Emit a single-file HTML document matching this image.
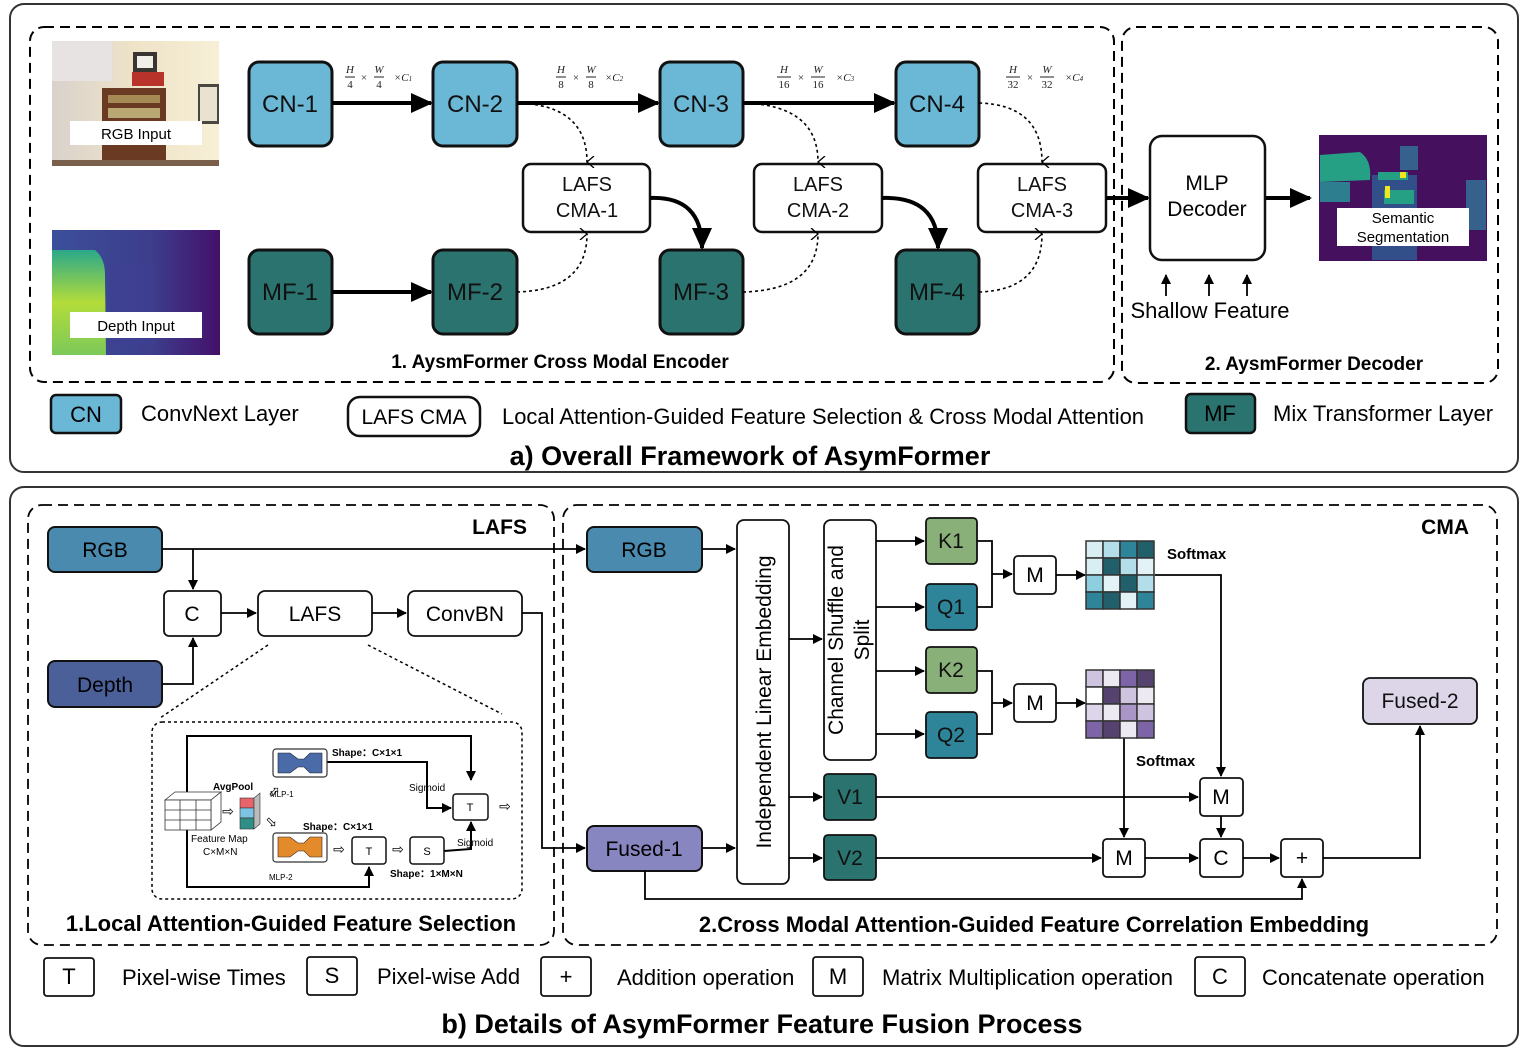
<!DOCTYPE html>
<html><head><meta charset="utf-8"><style>
html,body{margin:0;padding:0;background:#fff}
svg{display:block;font-family:"Liberation Sans",Arial,sans-serif}
</style></head><body>
<svg width="1521" height="1053" viewBox="0 0 1521 1053" xmlns="http://www.w3.org/2000/svg">
<defs>
<marker id="ah" markerWidth="10" markerHeight="10" refX="9" refY="5" orient="auto" markerUnits="userSpaceOnUse"><path d="M0,0 L10,5 L0,10 z" fill="#000"/></marker>
<marker id="ahb" markerWidth="22" markerHeight="20" refX="20" refY="10" orient="auto" markerUnits="userSpaceOnUse"><path d="M0,0 L22,10 L0,20 z" fill="#000"/></marker>
<marker id="aho" markerWidth="12" markerHeight="12" refX="6" refY="11" orient="auto-start-reverse" markerUnits="userSpaceOnUse"><path d="M0,4 L6,11 L12,4" fill="none" stroke="#000" stroke-width="1.3"/></marker>
<linearGradient id="gRgb" x1="0" y1="0" x2="1" y2="0"><stop offset="0" stop-color="#d9d2cc"/><stop offset="0.5" stop-color="#efe3c8"/><stop offset="1" stop-color="#f6efd6"/></linearGradient>
<linearGradient id="gDep" x1="0" y1="0" x2="1" y2="0"><stop offset="0" stop-color="#3b4f9a"/><stop offset="0.6" stop-color="#3d3d8c"/><stop offset="1" stop-color="#44106a"/></linearGradient>
<linearGradient id="gDep2" x1="0" y1="0" x2="0" y2="1"><stop offset="0" stop-color="#2aa88a"/><stop offset="0.5" stop-color="#b3dc3a"/><stop offset="1" stop-color="#7cc95a"/></linearGradient>
</defs>

<!-- ===== Panel a ===== -->
<rect x="10" y="4" width="1508" height="468" rx="14" fill="#fff" stroke="#333" stroke-width="2"/>
<rect x="30" y="27" width="1084" height="355" rx="14" fill="none" stroke="#000" stroke-width="2" stroke-dasharray="10,6"/>
<rect x="1122" y="27" width="376" height="356" rx="14" fill="none" stroke="#000" stroke-width="2" stroke-dasharray="10,6"/>

<!-- RGB image -->
<rect x="52" y="41" width="167" height="125" fill="url(#gRgb)"/>
<rect x="52" y="41" width="60" height="40" fill="#e7e3e3"/>
<rect x="102" y="88" width="64" height="78" fill="#6b3a22"/>
<rect x="108" y="95" width="52" height="8" fill="#a58a56"/>
<rect x="108" y="108" width="52" height="10" fill="#b9a874"/>
<rect x="132" y="72" width="32" height="14" fill="#b8342a"/>
<rect x="133" y="52" width="24" height="20" fill="#3a3530"/>
<rect x="137" y="56" width="16" height="12" fill="#f0efe8"/>
<rect x="198" y="84" width="21" height="40" fill="#4a4640"/>
<rect x="200" y="87" width="17" height="34" fill="#e9e2d0"/>
<rect x="52" y="160" width="167" height="6" fill="#7a5f4a"/>
<rect x="70" y="121" width="132" height="24" fill="#fff"/>
<text x="136" y="139" font-size="15" text-anchor="middle">RGB Input</text>

<!-- Depth image -->
<rect x="52" y="230" width="168" height="125" fill="url(#gDep)"/>
<path d="M52,250 L95,250 Q105,258 105,275 L106,355 L52,355 z" fill="url(#gDep2)"/>
<rect x="110" y="265" width="45" height="80" fill="#403f92" opacity="0.6"/>
<rect x="70" y="312" width="132" height="26" fill="#fff"/>
<text x="136" y="331" font-size="15" text-anchor="middle">Depth Input</text>

<!-- CN boxes -->
<g stroke="#111" stroke-width="3" fill="#6bb8d6">
<rect x="249" y="62" width="83" height="84" rx="10"/>
<rect x="433" y="62" width="84" height="84" rx="10"/>
<rect x="660" y="62" width="83" height="84" rx="10"/>
<rect x="896" y="62" width="83" height="84" rx="10"/>
</g>
<g fill="#2b736f" stroke="#111" stroke-width="3">
<rect x="249" y="250" width="83" height="84" rx="10"/>
<rect x="433" y="250" width="84" height="84" rx="10"/>
<rect x="660" y="250" width="83" height="84" rx="10"/>
<rect x="896" y="250" width="83" height="84" rx="10"/>
</g>
<g font-size="24" text-anchor="middle" fill="#111">
<text x="290" y="112">CN-1</text><text x="475" y="112">CN-2</text><text x="701" y="112">CN-3</text><text x="937" y="112">CN-4</text>
<text x="290" y="300">MF-1</text><text x="475" y="300">MF-2</text><text x="701" y="300">MF-3</text><text x="937" y="300">MF-4</text>
</g>

<!-- LAFS CMA boxes -->
<g fill="#fff" stroke="#111" stroke-width="2.5">
<rect x="523" y="164" width="127" height="68" rx="8"/>
<rect x="754" y="164" width="128" height="68" rx="8"/>
<rect x="978" y="164" width="128" height="68" rx="8"/>
</g>
<g font-size="20" text-anchor="middle" fill="#111">
<text x="587" y="191">LAFS</text><text x="587" y="217">CMA-1</text>
<text x="818" y="191">LAFS</text><text x="818" y="217">CMA-2</text>
<text x="1042" y="191">LAFS</text><text x="1042" y="217">CMA-3</text>
</g>

<!-- thick arrows -->
<g stroke="#000" stroke-width="4" fill="none" marker-end="url(#ahb)">
<line x1="332" y1="103" x2="431" y2="103"/>
<line x1="517" y1="103" x2="658" y2="103"/>
<line x1="743" y1="103" x2="894" y2="103"/>
<line x1="332" y1="292" x2="431" y2="292"/>
<path d="M650,198 Q702,196 702,248"/>
<path d="M882,198 Q938,196 938,248"/>
<line x1="1106" y1="198" x2="1148" y2="198"/>
<line x1="1265" y1="198" x2="1310" y2="198"/>
</g>
<!-- dotted curves -->
<g stroke="#000" stroke-width="1.6" fill="none" stroke-dasharray="3,3">
<path d="M517,103 Q587,105 587,162" marker-end="url(#aho)"/>
<path d="M517,292 Q587,290 587,234" marker-end="url(#aho)"/>
<path d="M743,103 Q818,105 818,162" marker-end="url(#aho)"/>
<path d="M743,292 Q818,290 818,234" marker-end="url(#aho)"/>
<path d="M979,103 Q1042,105 1042,162" marker-end="url(#aho)"/>
<path d="M979,292 Q1042,290 1042,234" marker-end="url(#aho)"/>
</g>

<!-- formulas -->
<g font-family="Liberation Serif,serif" font-style="italic" font-size="11" fill="#222" text-anchor="middle">
<g transform="translate(350,0)"><text x="0" y="73">H</text><text x="0" y="88" font-style="normal">4</text><line x1="-5" y1="77" x2="5" y2="77" stroke="#222"/></g>
<text x="364" y="81" font-style="normal">×</text>
<g transform="translate(379,0)"><text x="0" y="73">W</text><text x="0" y="88" font-style="normal">4</text><line x1="-5" y1="77" x2="5" y2="77" stroke="#222"/></g>
<text x="403" y="81">×C<tspan font-size="7">1</tspan></text>
<g transform="translate(561,0)"><text x="0" y="73">H</text><text x="0" y="88" font-style="normal">8</text><line x1="-5" y1="77" x2="5" y2="77" stroke="#222"/></g>
<text x="576" y="81" font-style="normal">×</text>
<g transform="translate(591,0)"><text x="0" y="73">W</text><text x="0" y="88" font-style="normal">8</text><line x1="-5" y1="77" x2="5" y2="77" stroke="#222"/></g>
<text x="614" y="81">×C<tspan font-size="7">2</tspan></text>
<g transform="translate(784,0)"><text x="0" y="73">H</text><text x="0" y="88" font-style="normal">16</text><line x1="-7" y1="77" x2="7" y2="77" stroke="#222"/></g>
<text x="801" y="81" font-style="normal">×</text>
<g transform="translate(818,0)"><text x="0" y="73">W</text><text x="0" y="88" font-style="normal">16</text><line x1="-7" y1="77" x2="7" y2="77" stroke="#222"/></g>
<text x="845" y="81">×C<tspan font-size="7">3</tspan></text>
<g transform="translate(1013,0)"><text x="0" y="73">H</text><text x="0" y="88" font-style="normal">32</text><line x1="-7" y1="77" x2="7" y2="77" stroke="#222"/></g>
<text x="1030" y="81" font-style="normal">×</text>
<g transform="translate(1047,0)"><text x="0" y="73">W</text><text x="0" y="88" font-style="normal">32</text><line x1="-7" y1="77" x2="7" y2="77" stroke="#222"/></g>
<text x="1074" y="81">×C<tspan font-size="7">4</tspan></text>
</g>

<!-- MLP decoder -->
<rect x="1150" y="136" width="115" height="124" rx="12" fill="#fff" stroke="#111" stroke-width="2.5"/>
<text x="1207" y="190" font-size="21" text-anchor="middle">MLP</text>
<text x="1207" y="216" font-size="21" text-anchor="middle">Decoder</text>
<g stroke="#000" stroke-width="1.8" marker-end="url(#ah)">
<line x1="1166" y1="296" x2="1166" y2="275"/><line x1="1209" y1="296" x2="1209" y2="275"/><line x1="1247" y1="296" x2="1247" y2="275"/>
</g>
<text x="1210" y="318" font-size="22" text-anchor="middle">Shallow Feature</text>

<!-- Segmentation image -->
<rect x="1319" y="135" width="168" height="126" fill="#45105e"/>
<path d="M1320,155 L1360,152 Q1372,160 1370,180 L1320,182 z" fill="#25a085"/>
<rect x="1320" y="182" width="30" height="20" fill="#2d7e8e"/>
<rect x="1400" y="146" width="18" height="24" fill="#35618c"/>
<rect x="1372" y="175" width="45" height="85" fill="#334f8a"/>
<rect x="1378" y="172" width="30" height="8" fill="#25a085"/>
<rect x="1384" y="190" width="30" height="14" fill="#25a085"/>
<rect x="1400" y="172" width="6" height="6" fill="#f3e51e"/>
<rect x="1385" y="186" width="5" height="12" fill="#f3e51e"/>
<rect x="1466" y="180" width="20" height="50" fill="#35618c"/>
<rect x="1337" y="208" width="132" height="38" fill="#fff"/>
<text x="1403" y="223" font-size="15" text-anchor="middle">Semantic</text>
<text x="1403" y="242" font-size="15" text-anchor="middle">Segmentation</text>

<text x="560" y="368" font-size="19" font-weight="bold" text-anchor="middle">1. AysmFormer Cross Modal Encoder</text>
<text x="1314" y="370" font-size="19" font-weight="bold" text-anchor="middle">2. AysmFormer Decoder</text>

<!-- legend a -->
<rect x="51" y="395" width="70" height="38" rx="5" fill="#6bb8d6" stroke="#111" stroke-width="2.5"/>
<text x="86" y="422" font-size="22" text-anchor="middle">CN</text>
<text x="141" y="421" font-size="22">ConvNext Layer</text>
<rect x="348" y="397" width="132" height="39" rx="12" fill="#fff" stroke="#111" stroke-width="2.5"/>
<text x="414" y="424" font-size="21" text-anchor="middle">LAFS CMA</text>
<text x="502" y="424" font-size="22" textLength="642" lengthAdjust="spacingAndGlyphs">Local Attention-Guided Feature Selection &amp; Cross Modal Attention</text>
<rect x="1186" y="394" width="69" height="39" rx="5" fill="#2b736f" stroke="#111" stroke-width="2.5"/>
<text x="1220" y="421" font-size="22" text-anchor="middle">MF</text>
<text x="1273" y="421" font-size="22">Mix Transformer Layer</text>
<text x="750" y="465" font-size="27" font-weight="bold" text-anchor="middle">a) Overall Framework of AsymFormer</text>

<!-- ===== Panel b ===== -->
<rect x="10" y="487" width="1508" height="559" rx="14" fill="#fff" stroke="#333" stroke-width="2"/>
<rect x="28" y="505" width="526" height="440" rx="14" fill="none" stroke="#000" stroke-width="1.8" stroke-dasharray="10,6"/>
<rect x="563" y="505" width="934" height="440" rx="14" fill="none" stroke="#000" stroke-width="1.8" stroke-dasharray="10,6"/>
<text x="527" y="534" font-size="21" font-weight="bold" text-anchor="end">LAFS</text>
<text x="1469" y="534" font-size="21" font-weight="bold" text-anchor="end">CMA</text>

<!-- LAFS panel boxes -->
<rect x="48" y="527" width="114" height="45" rx="7" fill="#4a8aae" stroke="#111" stroke-width="2"/>
<text x="105" y="557" font-size="21" text-anchor="middle">RGB</text>
<rect x="48" y="661" width="114" height="46" rx="7" fill="#4b6099" stroke="#111" stroke-width="2"/>
<text x="105" y="692" font-size="21" text-anchor="middle">Depth</text>
<g fill="#fff" stroke="#111" stroke-width="1.8">
<rect x="164" y="591" width="57" height="45" rx="5"/>
<rect x="258" y="591" width="114" height="45" rx="7"/>
<rect x="408" y="591" width="114" height="45" rx="7"/>
</g>
<g font-size="21" text-anchor="middle"><text x="192" y="621">C</text><text x="315" y="621">LAFS</text><text x="465" y="621">ConvBN</text></g>
<g stroke="#000" stroke-width="1.8" fill="none" marker-end="url(#ah)">
<line x1="162" y1="549" x2="585" y2="549"/>
<polyline points="193,549 193,589"/>
<polyline points="162,684 193,684 193,638"/>
<line x1="221" y1="613" x2="256" y2="613"/>
<line x1="372" y1="613" x2="406" y2="613"/>
<polyline points="522,613 542,613 542,848 585,848"/>
</g>
<g stroke="#000" stroke-width="1.5" stroke-dasharray="3,3">
<line x1="268" y1="645" x2="160" y2="718"/><line x1="368" y1="645" x2="502" y2="714"/>
</g>

<!-- inset -->
<rect x="152" y="722" width="370" height="177" rx="10" fill="none" stroke="#000" stroke-width="1.5" stroke-dasharray="3,3"/>
<g stroke="#000" stroke-width="2" fill="none">
<polyline points="187,793 187,736 471,736 471,780" marker-end="url(#ah)"/>
<polyline points="327,762 427,762 427,808 451,808" marker-end="url(#ah)"/>
<polyline points="187,830 187,887 369,887 369,867" marker-end="url(#ah)"/>
<polyline points="444,851 471,849 471,822" marker-end="url(#ah)"/>
</g>
<g stroke="#333" stroke-width="0.8" fill="#fff">
<path d="M165,800 L175,792 L221,792 L211,800 z"/>
<path d="M211,800 L221,792 L221,822 L211,830 z"/>
<rect x="165" y="800" width="46" height="30"/>
<line x1="180" y1="800" x2="180" y2="830"/><line x1="196" y1="800" x2="196" y2="830"/>
<line x1="165" y1="810" x2="211" y2="810"/><line x1="165" y1="820" x2="211" y2="820"/>
</g>
<rect x="240" y="798" width="14" height="10" fill="#e8646a" stroke="#333" stroke-width="0.6"/>
<rect x="240" y="808" width="14" height="10" fill="#7fc3e3" stroke="#333" stroke-width="0.6"/>
<rect x="240" y="818" width="14" height="11" fill="#2f8f86" stroke="#333" stroke-width="0.6"/>
<path d="M254,798 L260,793 L260,824 L254,829 z" fill="#bbb" stroke="#333" stroke-width="0.6"/>
<text x="213" y="790" font-size="10" font-weight="bold">AvgPool</text>
<text x="191" y="842" font-size="10">Feature Map</text>
<text x="203" y="855" font-size="10">C×M×N</text>
<rect x="273" y="749" width="54" height="28" rx="3" fill="#fff" stroke="#333" stroke-width="1.2"/>
<path d="M278,753 L290,753 L298,759 L304,759 L310,753 L322,753 L322,773 L310,773 L304,767 L298,767 L290,773 L278,773 z" fill="#4a6aa8" stroke="#223" stroke-width="0.6"/>
<rect x="273" y="833" width="54" height="29" rx="3" fill="#fff" stroke="#333" stroke-width="1.2"/>
<path d="M278,837 L290,837 L298,843 L304,843 L310,837 L322,837 L322,857 L310,857 L304,851 L298,851 L290,857 L278,857 z" fill="#e38a2a" stroke="#322" stroke-width="0.6"/>
<text x="332" y="756" font-size="10" font-weight="bold">Shape：C×1×1</text>
<text x="303" y="830" font-size="10" font-weight="bold">Shape：C×1×1</text>
<text x="390" y="877" font-size="10" font-weight="bold">Shape：1×M×N</text>
<text x="409" y="791" font-size="10">Sigmoid</text>
<text x="457" y="846" font-size="10">Sigmoid</text>
<text x="270" y="797" font-size="8">MLP-1</text>
<text x="269" y="880" font-size="8">MLP-2</text>
<g fill="#fff" stroke="#111" stroke-width="1.5">
<rect x="453" y="794" width="35" height="26" rx="3"/>
<rect x="352" y="837" width="34" height="27" rx="3"/>
<rect x="410" y="837" width="34" height="27" rx="3"/>
</g>
<g font-size="11" text-anchor="middle"><text x="470" y="811">T</text><text x="369" y="855">T</text><text x="427" y="855">S</text></g>
<g font-size="14" text-anchor="middle"><text x="228" y="816">⇨</text><text x="339" y="854">⇨</text><text x="398" y="854">⇨</text><text x="505" y="811">⇨</text>
<text x="274" y="796" transform="rotate(-45 274 791)">⇨</text><text x="272" y="827" transform="rotate(45 272 822)">⇨</text></g>

<!-- CMA panel -->
<rect x="587" y="527" width="115" height="45" rx="7" fill="#4a8aae" stroke="#111" stroke-width="2"/>
<text x="644" y="557" font-size="21" text-anchor="middle">RGB</text>
<rect x="587" y="826" width="115" height="45" rx="7" fill="#8886c0" stroke="#111" stroke-width="2"/>
<text x="644" y="856" font-size="21" text-anchor="middle">Fused-1</text>
<rect x="737" y="520" width="52" height="364" rx="7" fill="#fff" stroke="#111" stroke-width="1.8"/>
<text transform="translate(771,702) rotate(-90)" font-size="21" text-anchor="middle">Independent Linear Embedding</text>
<rect x="824" y="520" width="52" height="240" rx="7" fill="#fff" stroke="#111" stroke-width="1.8"/>
<text transform="translate(843,640) rotate(-90)" font-size="21" text-anchor="middle">Channel Shuffle and</text>
<text transform="translate(869,640) rotate(-90)" font-size="21" text-anchor="middle">Split</text>
<g stroke="#111" stroke-width="1.8">
<rect x="824" y="774" width="52" height="46" rx="4" fill="#2b736f"/>
<rect x="824" y="835" width="52" height="45" rx="4" fill="#2b736f"/>
<rect x="926" y="518" width="51" height="46" rx="4" fill="#8ab07a"/>
<rect x="926" y="584" width="51" height="46" rx="4" fill="#2e8498"/>
<rect x="926" y="647" width="51" height="46" rx="4" fill="#8ab07a"/>
<rect x="926" y="712" width="51" height="46" rx="4" fill="#2e8498"/>
<rect x="1363" y="678" width="114" height="46" rx="7" fill="#dcd6e8"/>
</g>
<g font-size="21" text-anchor="middle" fill="#111">
<text x="850" y="804">V1</text><text x="850" y="865">V2</text>
<text x="951" y="548">K1</text><text x="951" y="614">Q1</text><text x="951" y="677">K2</text><text x="951" y="742">Q2</text>
<text x="1420" y="708">Fused-2</text>
</g>
<g fill="#fff" stroke="#111" stroke-width="1.8">
<rect x="1014" y="556" width="42" height="38" rx="4"/>
<rect x="1014" y="684" width="42" height="38" rx="4"/>
<rect x="1200" y="778" width="43" height="38" rx="4"/>
<rect x="1103" y="839" width="42" height="38" rx="4"/>
<rect x="1200" y="839" width="43" height="38" rx="4"/>
<rect x="1281" y="839" width="42" height="38" rx="4"/>
</g>
<g font-size="21" text-anchor="middle">
<text x="1035" y="582">M</text><text x="1035" y="710">M</text><text x="1221" y="804">M</text><text x="1124" y="865">M</text><text x="1221" y="865">C</text><text x="1302" y="865">+</text>
</g>
<g stroke="#000" stroke-width="1.8" fill="none">
<line x1="702" y1="549" x2="735" y2="549" marker-end="url(#ah)"/>
<line x1="702" y1="848" x2="735" y2="848" marker-end="url(#ah)"/>
<line x1="789" y1="639" x2="822" y2="639" marker-end="url(#ah)"/>
<line x1="789" y1="797" x2="822" y2="797" marker-end="url(#ah)"/>
<line x1="789" y1="858" x2="822" y2="858" marker-end="url(#ah)"/>
<line x1="876" y1="541" x2="924" y2="541" marker-end="url(#ah)"/>
<line x1="876" y1="607" x2="924" y2="607" marker-end="url(#ah)"/>
<line x1="876" y1="671" x2="924" y2="671" marker-end="url(#ah)"/>
<line x1="876" y1="734" x2="924" y2="734" marker-end="url(#ah)"/>
<polyline points="977,541 992,541 992,607 977,607"/>
<line x1="992" y1="574" x2="1012" y2="574" marker-end="url(#ah)"/>
<polyline points="977,671 992,671 992,734 977,734"/>
<line x1="992" y1="703" x2="1012" y2="703" marker-end="url(#ah)"/>
<line x1="1056" y1="575" x2="1085" y2="575" marker-end="url(#ah)"/>
<line x1="1056" y1="703" x2="1085" y2="703" marker-end="url(#ah)"/>
<polyline points="1155,575 1221,575 1221,776" marker-end="url(#ah)"/>
<polyline points="1124,738 1124,837" marker-end="url(#ah)"/>
<line x1="876" y1="797" x2="1198" y2="797" marker-end="url(#ah)"/>
<line x1="876" y1="858" x2="1101" y2="858" marker-end="url(#ah)"/>
<line x1="1145" y1="858" x2="1198" y2="858" marker-end="url(#ah)"/>
<line x1="1221" y1="816" x2="1221" y2="837" marker-end="url(#ah)"/>
<line x1="1243" y1="858" x2="1279" y2="858" marker-end="url(#ah)"/>
<polyline points="1323,858 1420,858 1420,726" marker-end="url(#ah)"/>
<polyline points="645,871 645,899 1302,899 1302,879" marker-end="url(#ah)"/>
</g>
<!-- matrices -->
<g stroke="#333" stroke-width="1.5">
<rect x="1086" y="541" width="17" height="17" fill="#d8eef3"/><rect x="1103" y="541" width="17" height="17" fill="#b3dde8"/><rect x="1120" y="541" width="17" height="17" fill="#2e8498"/><rect x="1137" y="541" width="17" height="17" fill="#215f6a"/>
<rect x="1086" y="558" width="17" height="17" fill="#d8eef3"/><rect x="1103" y="558" width="17" height="17" fill="#215f6a"/><rect x="1120" y="558" width="17" height="17" fill="#b3dde8"/><rect x="1137" y="558" width="17" height="17" fill="#e2f2f6"/>
<rect x="1086" y="575" width="17" height="17" fill="#8ecfdf"/><rect x="1103" y="575" width="17" height="17" fill="#e2f2f6"/><rect x="1120" y="575" width="17" height="17" fill="#215f6a"/><rect x="1137" y="575" width="17" height="17" fill="#b3dde8"/>
<rect x="1086" y="592" width="17" height="17" fill="#2e8498"/><rect x="1103" y="592" width="17" height="17" fill="#215f6a"/><rect x="1120" y="592" width="17" height="17" fill="#e2f2f6"/><rect x="1137" y="592" width="17" height="17" fill="#2e8498"/>
<rect x="1086" y="670" width="17" height="17" fill="#cec4e0"/><rect x="1103" y="670" width="17" height="17" fill="#ece9f3"/><rect x="1120" y="670" width="17" height="17" fill="#7d64a6"/><rect x="1137" y="670" width="17" height="17" fill="#56426f"/>
<rect x="1086" y="687" width="17" height="17" fill="#fff"/><rect x="1103" y="687" width="17" height="17" fill="#56426f"/><rect x="1120" y="687" width="17" height="17" fill="#cec4e0"/><rect x="1137" y="687" width="17" height="17" fill="#ece9f3"/>
<rect x="1086" y="704" width="17" height="17" fill="#ddd6ea"/><rect x="1103" y="704" width="17" height="17" fill="#ece9f3"/><rect x="1120" y="704" width="17" height="17" fill="#a996c6"/><rect x="1137" y="704" width="17" height="17" fill="#cec4e0"/>
<rect x="1086" y="721" width="17" height="17" fill="#7d64a6"/><rect x="1103" y="721" width="17" height="17" fill="#56426f"/><rect x="1120" y="721" width="17" height="17" fill="#ece9f3"/><rect x="1137" y="721" width="17" height="17" fill="#7d64a6"/>
</g>
<text x="1167" y="559" font-size="15" font-weight="bold">Softmax</text>
<text x="1136" y="766" font-size="15" font-weight="bold">Softmax</text>

<text x="291" y="931" font-size="22" font-weight="bold" text-anchor="middle">1.Local Attention-Guided Feature Selection</text>
<text x="1034" y="932" font-size="22" font-weight="bold" text-anchor="middle">2.Cross Modal Attention-Guided Feature Correlation Embedding</text>

<!-- legend b -->
<g fill="#fff" stroke="#111" stroke-width="1.8">
<rect x="44" y="958" width="50" height="38" rx="3"/>
<rect x="307" y="957" width="50" height="38" rx="3"/>
<rect x="541" y="957" width="50" height="39" rx="3"/>
<rect x="813" y="957" width="50" height="39" rx="3"/>
<rect x="1195" y="957" width="50" height="39" rx="3"/>
</g>
<g font-size="22">
<text x="69" y="984" text-anchor="middle">T</text><text x="122" y="985">Pixel-wise Times</text>
<text x="332" y="983" text-anchor="middle">S</text><text x="377" y="984">Pixel-wise Add</text>
<text x="566" y="984" text-anchor="middle">+</text><text x="617" y="985">Addition operation</text>
<text x="838" y="984" text-anchor="middle">M</text><text x="882" y="985">Matrix Multiplication operation</text>
<text x="1220" y="984" text-anchor="middle">C</text><text x="1262" y="985">Concatenate operation</text>
</g>
<text x="762" y="1033" font-size="27" font-weight="bold" text-anchor="middle">b) Details of AsymFormer Feature Fusion Process</text>
</svg>
</body></html>
